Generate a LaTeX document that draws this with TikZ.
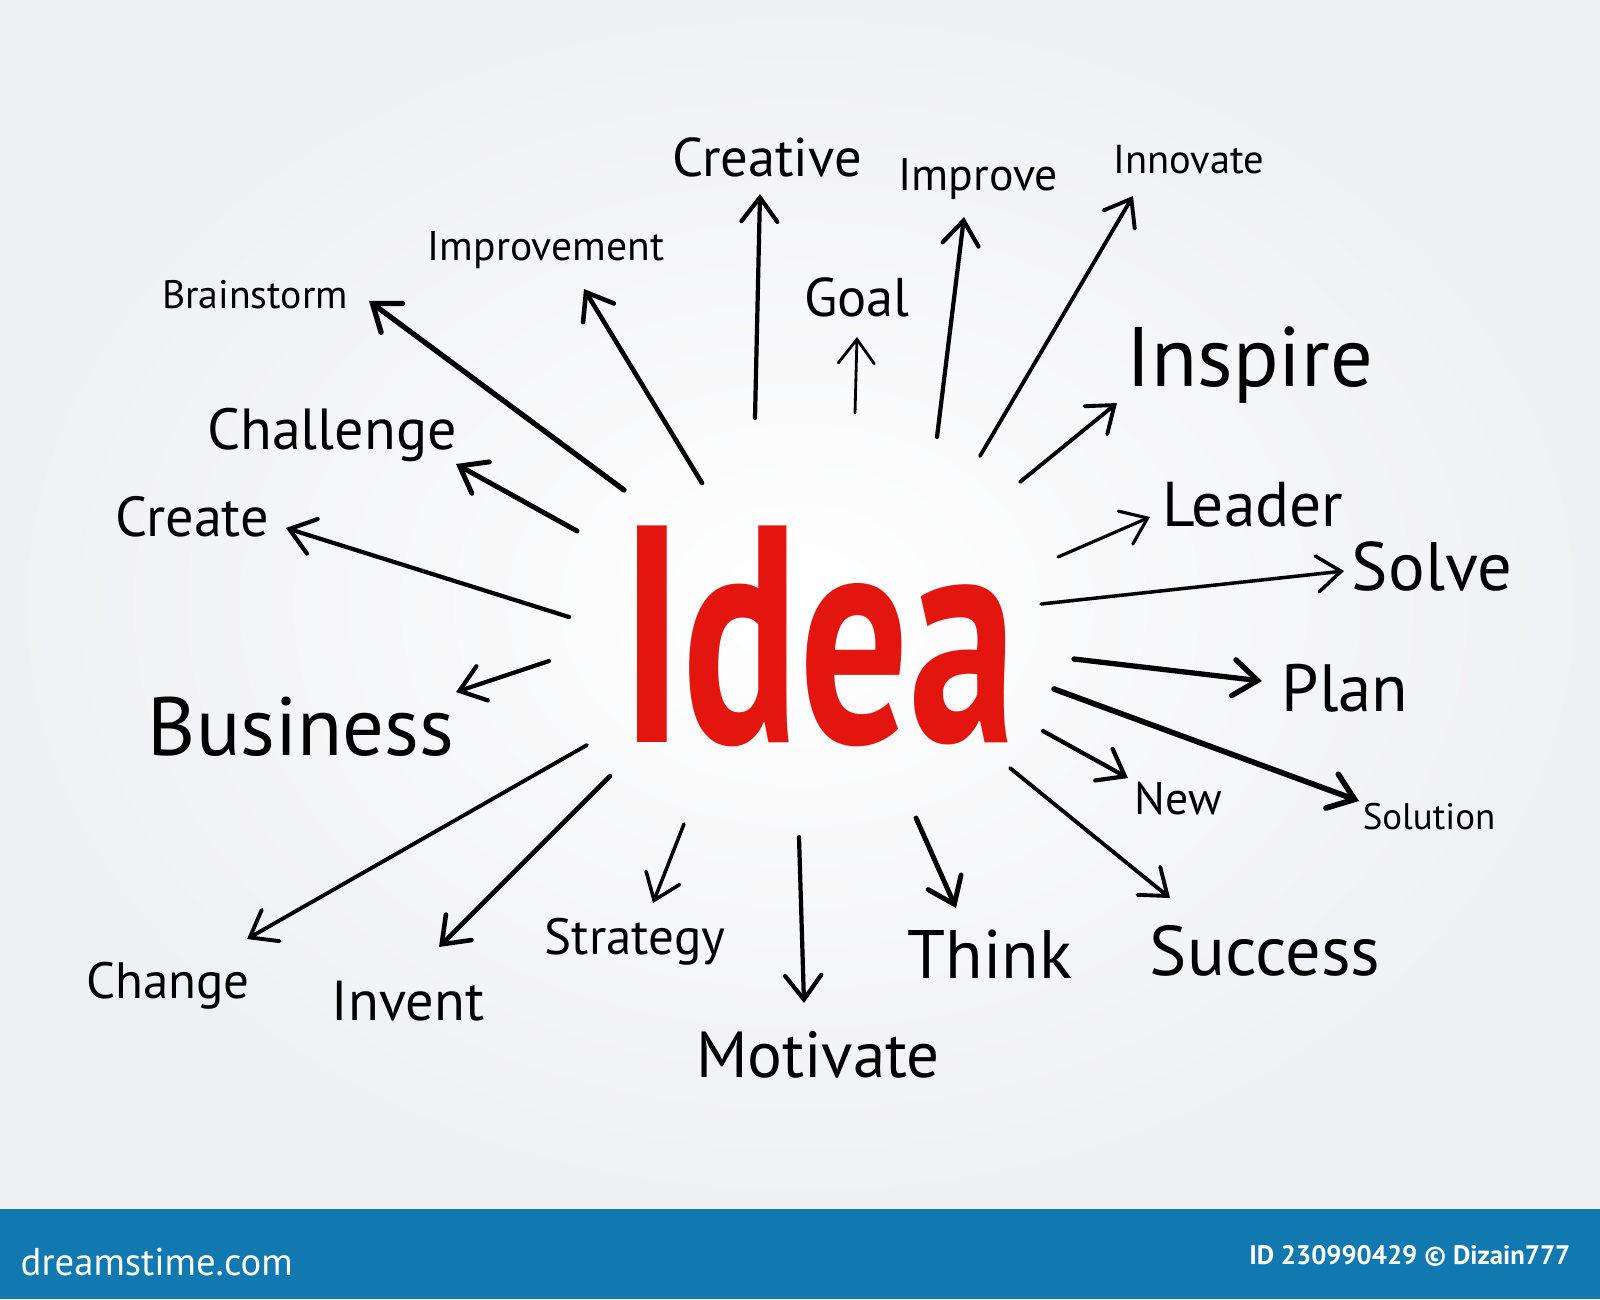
\documentclass[tikz,border=0pt]{standalone}
\usepackage{fontspec}
\setmainfont{PT Sans}
\usetikzlibrary{
    arrows.meta
    }
\definecolor{ideared}{RGB}{226,22,14}
\definecolor{barblue}{RGB}{17,120,176}
\definecolor{paper}{RGB}{239,240,243}

\begin{document}
\begin{tikzpicture}[x=0.01cm, y=-0.01cm]
\tikzset{word/.style =
        {
            anchor=base,
            inner sep=0pt,
            text=black,
            font=\fontsize{#1}{#1}\selectfont
        }
}

\tikzset{idea/.style =
        {
            anchor=base,
            inner sep=0pt,
            text=ideared,
            font=\fontsize{88}{88}\selectfont\bfseries
        }
}

\tikzset{spoke/.style =
        {
            line width=#1,
            line cap=round,
            -{Straight Barb[length=2.4mm, width=3.6mm, line cap=round]}
        }
}

\tikzset{stamp/.style =
        {
            inner sep=0pt,
            text=white
        }
}
		\useasboundingbox (0,0) rectangle (1600,1299);
		\shade[inner color=white, outer color=paper] (0,0) rectangle (1600,1209);
		\fill[barblue] (0,1209) rectangle (1600,1299);

		\node[idea] (idea) at (819,742) {\scalebox{0.7}[1]{Idea}};

		\foreach \name / \x / \y / \size / \txt in
			{creative/767/176/15.5/Creative,
				improve/978/190/13/Improve,
				innovate/1189/173/11.5/Innovate,
				improvement/546/260/11.8/Improvement,
				brainstorm/255/308/11.3/Brainstorm,
				goal/857/316/15.5/Goal,
				inspire/1250/386/24/Inspire,
				challenge/332/449/16.5/Challenge,
				create/192/536/16/Create,
				leader/1253/526/18/Leader,
				solve/1432/590/19.5/Solve,
				business/301/755/23.5/Business,
				plan/1345/711/19/Plan,
				new/1178/814/13/New,
				solution/1429/829/10.5/Solution,
				strategy/635/954/14.5/Strategy,
				think/990/978/19.5/Think,
				success/1265/975/20/Success,
				change/168/998/14.5/Change,
				invent/408/1020/16/Invent,
				motivate/818/1077/18.5/Motivate}
		\node[word=\size] (w-\name) at (\x,\y) {\txt};

		\foreach \name / \sx / \sy / \tx / \ty / \lw in
			{brainstorm/624/490/369/301/1.5pt,
				improvement/702/483/584/289/1.3pt,
				creative/755/418/760/194/1.2pt,
				goal/855/413/857/337/0.8pt,
				improve/937/437/964/217/1.2pt,
				innovate/980/456/1133/196/1.1pt,
				inspire/1020/482/1117/403/1.1pt,
				leader/1058/557/1150/517/0.9pt,
				solve/1041/604/1344/571/1pt,
				plan/1074/659/1262/681/1.5pt,
				solution/1054/689/1359/801/1.6pt,
				new/1043/731/1128/778/1.2pt,
				success/1010/768/1170/898/1.1pt,
				think/916/818/956/908/1.4pt,
				motivate/799/837/804/1003/1.2pt,
				strategy/684/824/653/903/1pt,
				invent/610/776/439/947/1.3pt,
				change/587/745/247/939/1.1pt,
				business/549/661/456/692/1.2pt,
				create/569/617/286/528/1.2pt,
				challenge/577/531/456/464/1.4pt}
			{
				\coordinate (s-\name) at (\sx,\sy);
				\coordinate (t-\name) at (\tx,\ty);
				\draw[spoke=\lw] (s-\name) -- (t-\name);
			}

		\node[stamp, anchor=west, font=\fontsize{11}{11}\selectfont] (site) at (20,1262) {dreamstime.com};
		\node[stamp, anchor=east, font=\fontsize{7.6}{7.6}\selectfont\bfseries] (credit) at (1571,1256) {ID 230990429 © Dizain777};

	\end{tikzpicture}
\end{document}
